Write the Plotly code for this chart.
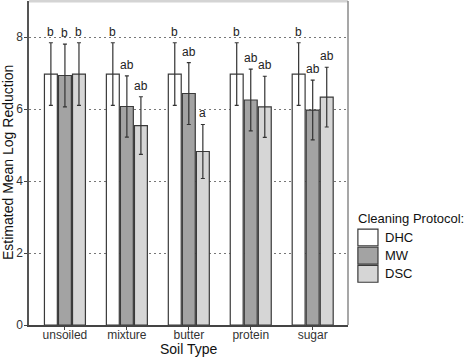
import plotly.graph_objects as go

soil = ["unsoiled", "mixture", "butter", "protein", "sugar"]
protocols = ["DHC", "MW", "DSC"]
means = {
    "DHC": [6.97, 6.97, 6.97, 6.97, 6.97],
    "MW":  [6.93, 6.07, 6.43, 6.25, 5.97],
    "DSC": [6.97, 5.54, 4.82, 6.06, 6.33],
}
err = {
    "DHC": [0.87, 0.87, 0.87, 0.87, 0.87],
    "MW":  [0.87, 0.85, 0.86, 0.86, 0.83],
    "DSC": [0.87, 0.80, 0.75, 0.85, 0.83],
}
letters = {
    "DHC": ["b", "b", "b", "b", "b"],
    "MW":  ["b", "ab", "ab", "ab", "ab"],
    "DSC": ["b", "ab", "a", "ab", "ab"],
}
colors = {"DHC": "#ffffff", "MW": "#a3a3a3", "DSC": "#d6d6d6"}

FONT = "Liberation Sans, Arial, sans-serif"
fig = go.Figure()
for p in protocols:
    fig.add_trace(go.Bar(
        name=p, x=soil, y=means[p],
        marker=dict(color=colors[p], line=dict(color="#3a3a3a", width=1.2)),
        error_y=dict(type="data", array=err[p], visible=True,
                     color="#333333", thickness=1.2, width=2),
        showlegend=False,
    ))

bargap = 0.32
slot = (1 - bargap) / 3
annotations = []
for j, p in enumerate(protocols):
    off = (j - 1) * slot
    for i, s in enumerate(soil):
        annotations.append(dict(
            x=i + off, y=means[p][i] + err[p][i], xref="x", yref="y",
            text=letters[p][i], showarrow=False, yanchor="bottom", yshift=2,
            font=dict(size=12, color="#222222", family=FONT)))

# axis titles
annotations.append(dict(x=0.5, y=0, xref="paper", yref="paper", yshift=-34,
                        text="Soil Type", showarrow=False, xanchor="center", yanchor="bottom",
                        font=dict(size=14, color="#111111", family=FONT)))
annotations.append(dict(x=0, y=0.5, xref="paper", yref="paper", xshift=-21,
                        text="Estimated Mean Log Reduction", showarrow=False, textangle=-90,
                        xanchor="center", yanchor="middle",
                        font=dict(size=14, color="#111111", family=FONT)))

# legend built manually
annotations.append(dict(x=1.025, y=0.33, xref="paper", yref="paper",
                        text="Cleaning Protocol:", showarrow=False,
                        xanchor="left", yanchor="middle",
                        font=dict(size=13, color="#111111", family=FONT)))
shapes = []
box_tops = [0.296, 0.240, 0.184]
for p, top in zip(protocols, box_tops):
    shapes.append(dict(type="rect", xref="paper", yref="paper",
                       x0=1.031, x1=1.094, y0=top - 0.052, y1=top,
                       fillcolor=colors[p], line=dict(color="#3a3a3a", width=1.2)))
    annotations.append(dict(x=1.11, y=top - 0.026, xref="paper", yref="paper",
                            text=p, showarrow=False, xanchor="left", yanchor="middle",
                            font=dict(size=13, color="#111111", family=FONT)))

# panel border (top light, right grey)
shapes.append(dict(type="line", xref="paper", yref="paper", x0=0, x1=1, y0=1, y1=1,
                   line=dict(color="#d4d4d4", width=3)))
shapes.append(dict(type="line", xref="paper", yref="paper", x0=1, x1=1, y0=0, y1=1,
                   line=dict(color="#8a8a8a", width=1.5)))

fig.update_layout(
    width=474, height=357,
    margin=dict(l=29, r=126, t=1, b=32),
    paper_bgcolor="white", plot_bgcolor="white",
    barmode="group", bargap=bargap, bargroupgap=0.08,
    font=dict(family=FONT, color="#333333"),
    annotations=annotations, shapes=shapes,
    xaxis=dict(type="category", range=[-0.58, 4.57], automargin=False,
               showline=True, linecolor="#444444", linewidth=1.5,
               ticks="outside", ticklen=3, tickcolor="#444444",
               ticklabelstandoff=-5,
               tickfont=dict(size=12, color="#333333"),
               showgrid=False),
    yaxis=dict(range=[0, 9.0], tickvals=[0, 2, 4, 6, 8], automargin=False,
               showline=True, linecolor="#555555", linewidth=1.5,
               ticks="outside", ticklen=3, tickcolor="#444444",
               ticklabelstandoff=-1,
               tickfont=dict(size=12, color="#333333"),
               showgrid=True, gridcolor="#777777", griddash="2px,3px", gridwidth=1,
               zeroline=False),
)
fig.write_html("out.html", config={"displayModeBar": False},
               post_script="document.body.style.margin='0';document.body.style.overflow='hidden';")
